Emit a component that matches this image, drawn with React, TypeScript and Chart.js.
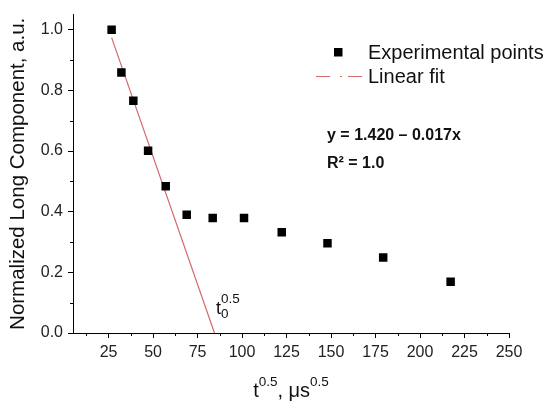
import React, { useEffect, useRef } from "react";
import { Chart, registerables } from "chart.js";

Chart.register(...registerables);

const xValues = [26.7, 32.2, 38.9, 47.2, 57.1, 68.9, 83.5, 101.1, 122.3, 148.0, 179.3, 217.2];
const yValues = [1.0, 0.859, 0.766, 0.601, 0.484, 0.39, 0.379, 0.379, 0.332, 0.296, 0.249, 0.169];
const fitX = [26.7, 84.5];
const fitY = [0.974, 0.0];
const xTicks = [25, 50, 75, 100, 125, 150, 175, 200, 225, 250];
const xMinorTicks = [12.5, 37.5, 62.5, 87.5, 112.5, 137.5, 162.5, 187.5, 212.5, 237.5];
const yTicks = [0, 0.2, 0.4, 0.6, 0.8, 1.0];
const yMinorTicks = [0.1, 0.3, 0.5, 0.7, 0.9];
const legendLabels = ["Experimental points", "Linear fit"];
const equationText = "y = 1.420 \u2013 0.017x";
const r2Text = "R\u00B2 = 1.0";
const yTitle = "Normalized Long Component, a.u.";

const FONT = "'Liberation Sans', Arial, sans-serif";
const FIT_COLOR = "#d4696d";

const overlay = {
  id: "overlay",
  afterDraw(chart: any) {
    const ctx = chart.ctx as CanvasRenderingContext2D;
    const xs = chart.scales.x;
    const ys = chart.scales.y;
    const area = chart.chartArea;
    ctx.save();
    // minor ticks
    ctx.strokeStyle = "#000";
    ctx.lineWidth = 1;
    ctx.beginPath();
    xMinorTicks.forEach((v) => {
      const px = Math.round(xs.getPixelForValue(v)) + 0.5;
      ctx.moveTo(px, area.bottom);
      ctx.lineTo(px, area.bottom + 3);
    });
    yMinorTicks.forEach((v) => {
      const py = Math.round(ys.getPixelForValue(v)) + 0.5;
      ctx.moveTo(area.left, py);
      ctx.lineTo(area.left - 3, py);
    });
    ctx.stroke();

    ctx.fillStyle = "#111";
    // y title
    ctx.save();
    ctx.translate(18, (area.top + area.bottom) / 2);
    ctx.rotate(-Math.PI / 2);
    ctx.font = `20.5px ${FONT}`;
    ctx.textAlign = "center";
    ctx.textBaseline = "middle";
    ctx.fillText(yTitle, 0, 0);
    ctx.restore();

    // x title with superscripts
    const F = 20, S = 13.5;
    const parts: [string, boolean][] = [["t", false], ["0.5", true], [", \u03BCs", false], ["0.5", true]];
    let total = 0;
    parts.forEach(([t, sup]) => {
      ctx.font = `${sup ? S : F}px ${FONT}`;
      total += ctx.measureText(t).width;
    });
    let cx = (area.left + area.right) / 2 - total / 2;
    const baseY = 397;
    ctx.textAlign = "left";
    ctx.textBaseline = "alphabetic";
    parts.forEach(([t, sup]) => {
      ctx.font = `${sup ? S : F}px ${FONT}`;
      ctx.fillText(t, cx, sup ? baseY - 11 : baseY);
      cx += ctx.measureText(t).width;
    });

    // t0^0.5 label
    const lx = 216, lby = 314;
    ctx.font = `18px ${FONT}`;
    ctx.fillText("t", lx, lby);
    const tw = ctx.measureText("t").width;
    ctx.font = `13.5px ${FONT}`;
    ctx.fillText("0", lx + tw, lby + 4);
    ctx.fillText("0.5", lx + tw, lby - 11);

    // legend
    ctx.fillStyle = "#000";
    ctx.fillRect(334, 48, 8.5, 8.5);
    ctx.strokeStyle = FIT_COLOR;
    ctx.lineWidth = 1.2;
    ctx.beginPath();
    ctx.moveTo(316, 76.5); ctx.lineTo(330, 76.5);
    ctx.moveTo(340, 76.5); ctx.lineTo(342, 76.5);
    ctx.moveTo(348, 76.5); ctx.lineTo(362, 76.5);
    ctx.stroke();
    ctx.fillStyle = "#111";
    ctx.font = `20px ${FONT}`;
    ctx.textBaseline = "middle";
    ctx.fillText(legendLabels[0], 368, 53);
    ctx.fillText(legendLabels[1], 368, 77);

    // equation
    ctx.font = `bold 16px ${FONT}`;
    ctx.fillText(equationText, 327, 136);
    ctx.fillText(r2Text, 327, 164);
    ctx.restore();
  },
};

export default function App() {
  const canvasRef = useRef<HTMLCanvasElement | null>(null);

  useEffect(() => {
    if (!canvasRef.current) return;
    const chart = new Chart(canvasRef.current, {
      type: "scatter",
      data: {
        datasets: [
          {
            label: legendLabels[0],
            data: xValues.map((x, i) => ({ x, y: yValues[i] })),
            pointStyle: "rect",
            pointRadius: 6,
            pointHoverRadius: 6,
            backgroundColor: "#000",
            borderColor: "#000",
            borderWidth: 0,
            showLine: false,
            order: 0,
          },
          {
            label: legendLabels[1],
            data: fitX.map((x, i) => ({ x, y: fitY[i] })),
            showLine: true,
            pointRadius: 0,
            borderColor: FIT_COLOR,
            borderWidth: 1.2,
            backgroundColor: FIT_COLOR,
            order: 1,
          } as any,
        ],
      },
      options: {
        animation: false,
        responsive: false,
        maintainAspectRatio: false,
        layout: { padding: { left: 0, right: 41, top: 12, bottom: 0 } },
        plugins: { legend: { display: false }, tooltip: { enabled: false } },
        scales: {
          x: {
            type: "linear",
            min: 5,
            max: 250,
            afterBuildTicks: (s: any) => {
              s.ticks = xTicks.map((v) => ({ value: v }));
            },
            afterFit: (s: any) => {
              s.height = 70;
            },
            ticks: {
              font: { family: FONT, size: 16 },
              color: "#222",
              padding: 5,
              maxRotation: 0,
              autoSkip: false,
              callback: (v: any) => String(v),
            },
            grid: { display: true, drawOnChartArea: false, drawTicks: true, tickLength: 5, tickColor: "#000", tickWidth: 1 },
            border: { display: true, color: "#000", width: 1 },
          },
          y: {
            type: "linear",
            min: 0,
            max: 1.05,
            afterBuildTicks: (s: any) => {
              s.ticks = yTicks.map((v) => ({ value: v }));
            },
            afterFit: (s: any) => {
              s.width = 73;
            },
            ticks: {
              font: { family: FONT, size: 16 },
              color: "#222",
              padding: 5,
              autoSkip: false,
              callback: (v: any) => Number(v).toFixed(1),
            },
            grid: { display: true, drawOnChartArea: false, drawTicks: true, tickLength: 5, tickColor: "#000", tickWidth: 1 },
            border: { display: true, color: "#000", width: 1 },
          },
        },
      },
      plugins: [overlay],
    });
    return () => chart.destroy();
  }, []);

  return (
    <div style={{ position: "fixed", left: 0, top: 0, width: 550, height: 403, background: "#fff" }}>
      <canvas ref={canvasRef} width={550} height={403} style={{ display: "block", width: 550, height: 403 }} />
    </div>
  );
}
